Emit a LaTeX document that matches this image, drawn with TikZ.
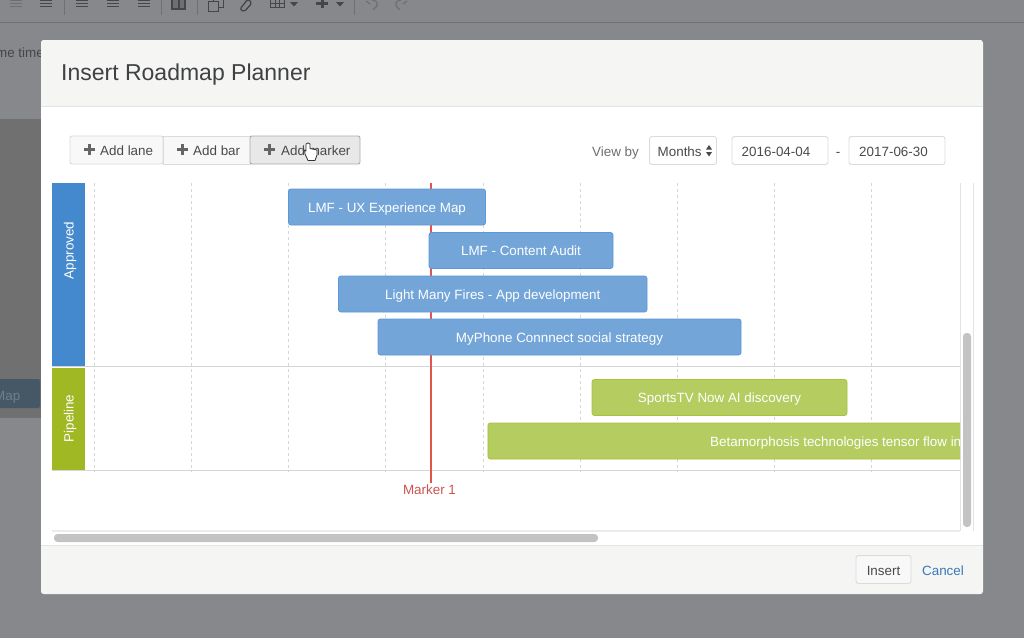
\documentclass[tikz,border=0pt]{standalone}
\usepackage{fontspec}
\setmainfont{Liberation Sans}
\definecolor{pagebg}{HTML}{87888B}
\definecolor{leftbg}{HTML}{6F706F}
\definecolor{mapbtn}{HTML}{465866}
\definecolor{mapink}{HTML}{707F8A}
\definecolor{toolink}{HTML}{45464A}
\definecolor{toolfade}{HTML}{6E6F73}
\definecolor{rulegray}{HTML}{6F7074}
\definecolor{headbg}{HTML}{F5F5F4}
\definecolor{headline}{HTML}{E2E3E4}
\definecolor{ink}{HTML}{4A4A4A}
\definecolor{titleink}{HTML}{3F4144}
\definecolor{btnline}{HTML}{DADBDD}
\definecolor{btnbg}{HTML}{F8F8F8}
\definecolor{hotbg}{HTML}{E8E8E8}
\definecolor{hotline}{HTML}{ABABAB}
\definecolor{lanelight}{HTML}{D4D5D5}
\definecolor{griddash}{HTML}{D6D6D8}
\definecolor{blue1}{HTML}{4488CD}
\definecolor{green1}{HTML}{A0B824}
\definecolor{barblue}{HTML}{73A5D8}
\definecolor{barblueline}{HTML}{5B98DA}
\definecolor{bargreen}{HTML}{B5CC61}
\definecolor{bargreenline}{HTML}{A8C23C}
\definecolor{markred}{HTML}{E2544C}
\definecolor{marktext}{HTML}{CC5450}
\definecolor{scrollc}{HTML}{C3C3C4}
\definecolor{linkblue}{HTML}{3A79B8}
\tikzset{
  x=1pt,y=-1pt,
  tfont/.style={font=\fontsize{13.4}{15}\selectfont,text height=11pt,text depth=1pt},
  txt/.style={inner sep=0pt,tfont,text=ink},
  bar/.style={draw,rounded corners=2.5pt,line width=.8pt,inner sep=0pt,text=white,tfont},
  bluebar/.style={bar,fill=barblue,draw=barblueline},
  greenbar/.style={bar,fill=bargreen,draw=bargreenline},
  lane/.style={inner sep=0pt,minimum width=33pt},
  lanetext/.style={rotate=90,inner sep=0pt,text=white,tfont},
  tbtn/.style={draw=btnline,fill=btnbg,line width=.9pt,inner sep=0pt,minimum height=28pt},
  field/.style={draw=btnline,fill=white,line width=.9pt,rounded corners=2.5pt,inner sep=0pt,minimum height=28pt},
  griddashed/.style={griddash,line width=.8pt,dash pattern=on 3pt off 3pt},
  tool/.style={toolink,line width=1pt},
  toolf/.style={toolfade,line width=1pt},
  plus/.style={line width=2.4pt,draw=ink!85}
}
\begin{document}
\begin{tikzpicture}
\useasboundingbox (0,0) rectangle (1024,638);
% backdrop
\fill[pagebg] (0,0) rectangle (1024,638);
\fill[leftbg] (0,119) rectangle (41,418);
\draw[rulegray,line width=1pt] (0,22.5) -- (1024,22.5);
\fill[mapbtn,rounded corners=2pt] (-4,379) rectangle (40,408);
\begin{scope}
\clip (0,0) rectangle (41,638);
\node[txt,anchor=east,text=mapink] (mapt) at (20.5,395) {Map};
\node[txt,anchor=east,text=toolink] (met) at (44,52) {me time};
\end{scope}
% toolbar glyphs
\foreach \y in {0.5,3.5,6.5} {\draw[toolf] (10,\y) -- (22,\y);}
\foreach \y in {0.5,3.5,6.5} {\draw[tool] (40,\y) -- (52,\y);}
\foreach \x/\w in {76/12,107/12,138/12} {\foreach \y in {0.5,3.5,6.5} {\draw[tool] (\x,\y) -- +(\w,0);}}
\foreach \x in {64.5,161,197.5,354.5} {\draw[rulegray,line width=.8pt] (\x,0) -- (\x,15);}
\draw[tool,line width=1.2pt,fill=toolfade] (172,-1) rectangle (185,9);
\draw[tool,line width=2pt] (178.5,-1) -- (178.5,9);
\draw[tool] (208,1) rectangle (218,11);
\draw[tool] (213,1) -- (213,-1) -- (223,-1) -- (223,7) -- (218,7);
\draw[tool,line width=1.3pt,rounded corners=2pt] (240,9) -- (244,12) -- (252,3) -- (248,-1) -- cycle;
\draw[tool] (270,-1) rectangle (284,7.5);
\draw[tool] (270,3) -- (284,3) (275,-1) -- (275,7.5) (279.5,-1) -- (279.5,7.5);
\fill[toolink] (290,2) -- (298,2) -- (294,6.5) -- cycle;
\draw[toolink,line width=3pt] (316,3) -- (328,3) (322,-2) -- (322,8);
\fill[toolink] (336,2) -- (344,2) -- (340,6.5) -- cycle;
\draw[toolf,line width=1.2pt] (366,1) -- (370,4) (372,0) .. controls (379,1) and (379,6) .. (373,9.5);
\draw[toolf,line width=1.2pt] (407,1) -- (403,4) (401,0) .. controls (394,1) and (394,6) .. (400,9.5);
% dialog
\fill[white,rounded corners=3pt] (41,40) rectangle (983,594);
\begin{scope}
\clip[rounded corners=3pt] (41,40) rectangle (983,594);
\fill[headbg] (41,40) rectangle (983,106);
\fill[headbg] (41,545) rectangle (983,594);
\draw[headline,line width=1pt] (41,106) -- (983,106);
\draw[headline,line width=1pt] (41,545) -- (983,545);
\end{scope}
\node[inner sep=0pt,anchor=base west,text=titleink,font=\fontsize{23}{27}\selectfont] (title) at (61,80) {Insert Roadmap Planner};
% button group
\node[tbtn,minimum width=93pt,rounded corners=2pt] (addlane) at (116.5,150) {};
\node[tbtn,minimum width=87pt] (addbar) at (206.5,150) {};
\node[tbtn,minimum width=110pt,fill=hotbg,draw=hotline,rounded corners=2pt] (addmarker) at (305,150) {};
\draw[plus] (84,149.5) -- (95,149.5) (89.5,144) -- (89.5,155);
\draw[plus] (177,149.5) -- (188,149.5) (182.5,144) -- (182.5,155);
\draw[plus] (264,149.5) -- (275,149.5) (269.5,144) -- (269.5,155);
\node[txt,anchor=west] (tlane) at (100,150) {Add lane};
\node[txt,anchor=west] (tbar) at (193,150) {Add bar};
\node[txt,anchor=west] (tmarker) at (281,150) {Add marker};
% hand cursor
\draw[black!80,fill=white,line width=.8pt,line join=round] (306,144) -- (306,151) -- (304.5,150) -- (305,154) -- (308,160.5) -- (315,160.5) -- (317,155) -- (317,150) -- (310,148.5) -- (310,144) .. controls (309.5,142.5) and (306.5,142.5) .. (306,144) -- cycle;
% right controls
\node[txt,anchor=west,text=ink!80] (viewby) at (592,151) {View by};
\node[field,minimum width=67pt] (months) at (683,150.5) {};
\node[txt,anchor=west] (tmonths) at (657.5,151) {Months};
\fill[ink] (706,149.5) -- (712,149.5) -- (709,145) -- cycle;
\fill[ink] (706,152) -- (712,152) -- (709,156.5) -- cycle;
\node[field,minimum width=96pt] (from) at (780,150.5) {};
\node[txt] (tfrom) at (776,151) {2016-04-04};
\node[txt] (dash) at (838,151) {-};
\node[field,minimum width=96pt] (to) at (897,150.5) {};
\node[txt] (tto) at (893.5,151) {2017-06-30};
% chart frame
\draw[headline,line width=.7pt] (960,183) -- (960,531);
\draw[headline,line width=.7pt] (973,183) -- (973,531);
\draw[headline!70,line width=1.2pt] (52,531) -- (960,531);
\foreach \x in {94.5,191.5,288.5,385.5,483,580,677,774,871} {\draw[griddashed] (\x,183) -- (\x,472);}
\draw[lanelight,line width=.9pt] (52,366.5) -- (960,366.5);
\draw[lanelight,line width=.9pt] (52,470.5) -- (960,470.5);
% lanes
\node[lane,fill=blue1,minimum height=183pt] (approved) at (68.5,274.5) {};
\node[lane,fill=green1,minimum height=102pt] (pipeline) at (68.5,419) {};
\node[lanetext] (tapp) at (68.5,250.5) {Approved};
\node[lanetext] (tpip) at (68.5,418.5) {Pipeline};
% marker line behind bars
\node[inner sep=0pt,tfont,text=marktext] (marker) at (429.5,489) {Marker 1};
\coordinate (mtop) at (430.5,183);
\draw[markred,line width=2pt] (mtop) -- (marker.north -| mtop);
% bars
\node[bluebar,minimum width=197pt,minimum height=36pt] (b1) at (387,207) {LMF - UX Experience Map};
\node[bluebar,minimum width=184pt,minimum height=36pt] (b2) at (521,250.5) {LMF - Content Audit};
\node[bluebar,minimum width=308.5pt,minimum height=36pt] (b3) at (492.75,294) {Light Many Fires - App development};
\node[bluebar,minimum width=363pt,minimum height=36pt] (b4) at (559.5,337) {MyPhone Connnect social strategy};
\node[greenbar,minimum width=255pt,minimum height=36pt] (g1) at (719.5,397.5) {SportsTV Now AI discovery};
\begin{scope}
\clip (480,415) rectangle (960,465);
\node[greenbar,minimum width=500pt,minimum height=36pt,anchor=west] (g2) at (487.5,441) {};
\node[inner sep=0pt,tfont,anchor=west,text=white] (tg2) at (710,441) {Betamorphosis technologies tensor flow in};
\end{scope}
% scrollbars
\fill[scrollc,rounded corners=3.5pt] (54,534) rectangle (598,542);
\fill[scrollc,rounded corners=3.5pt] (963,333) rectangle (971,527);
% footer
\node[field,fill=btnbg,minimum width=55pt] (insert) at (883.5,569.5) {};
\node[txt] (tinsert) at (883.5,570) {Insert};
\node[txt,text=linkblue] (cancel) at (943,570) {Cancel};
\end{tikzpicture}
\end{document}
